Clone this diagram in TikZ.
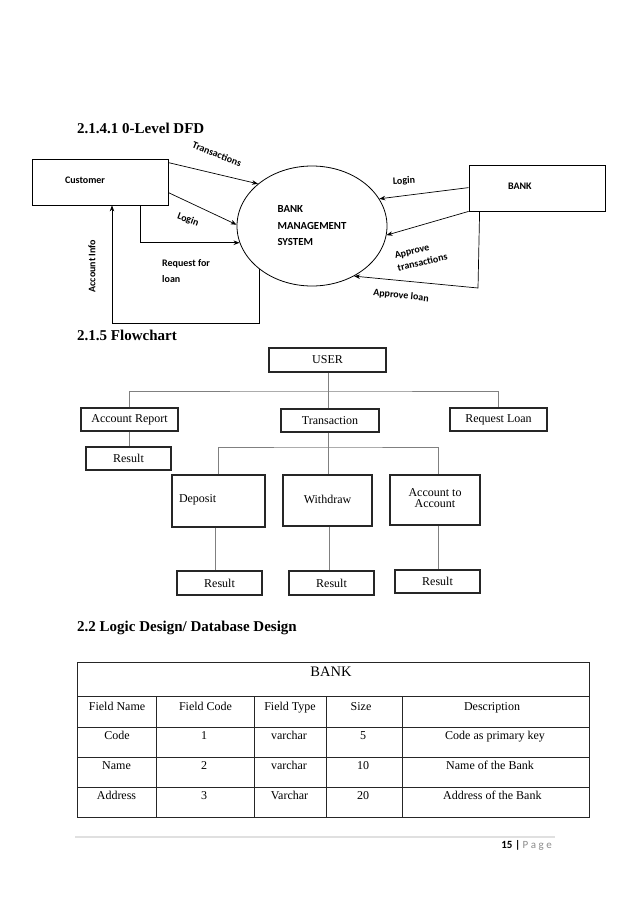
\documentclass[tikz,border=0pt]{standalone}
\usepackage{fontspec}
\setmainfont{Liberation Serif}
\newfontfamily\calfont{Carlito}
\usetikzlibrary{shapes.geometric,arrows.meta,calc}
\begin{document}
\begin{tikzpicture}[x=1pt,y=-1pt,
 dfdbox/.style={draw,line width=0.8pt,rectangle,inner ysep=0pt,minimum width=136pt,minimum height=46pt,align=left,font=\calfont\bfseries\fontsize{10}{12}\selectfont},
 dfdlbl/.style={font=\calfont\bfseries\fontsize{10}{14}\selectfont,inner sep=0pt,align=left},
 flow/.style={-{Stealth[length=6pt,width=4.5pt]},line width=0.7pt},
 fcbox/.style={draw=black!85,line width=1.2pt,rectangle,inner sep=0pt,align=center,font=\fontsize{12}{14}\selectfont},
 fcline/.style={draw=black!50,line width=0.9pt},
 heading/.style={font=\bfseries\fontsize{15}{17}\selectfont,anchor=base west,inner sep=0pt},
 cell/.style={font=\fontsize{12}{14}\selectfont,inner sep=0pt,anchor=base},
 cellL/.style={font=\fontsize{12}{14}\selectfont,inner sep=0pt,anchor=base west},
 tgrid/.style={draw=black!85,line width=0.8pt}]
\useasboundingbox (0,0) rectangle (638,902);
\fill[white] (0,0) rectangle (638,902);

% ---------- DFD ----------
\node[heading] (h1) at (77,133) {2.1.4.1 0-Level DFD};
\node[dfdbox,text width=70pt,inner xsep=33pt] (cust) at (100,182) {\raisebox{3pt}{Customer}};
\node[dfdbox,text width=58pt,inner xsep=39pt] (bank) at (537,188) {\raisebox{4pt}{BANK}};
\node[draw,ellipse,line width=0.8pt,minimum width=150pt,minimum height=120pt,inner sep=0pt,align=left,
      font=\calfont\bfseries\fontsize{10.8}{16.5}\selectfont] (sys) at (312,226) {BANK\\MANAGEMENT\hspace*{14pt}\\SYSTEM};

\draw[flow] ($(cust.north east)+(0,4)$) -- (sys.142.8);
\draw[flow] ($(cust.north east)+(0,34)$) -- (sys.179);
\draw[flow] ($(cust.south west)+(109,0)$) |- (sys.193);
\coordinate (ai) at (112,323);
\draw[flow] (sys.219) |- (ai) -- (ai |- cust.south);
\draw[flow] ($(bank.north west)+(0,23)$) -- (sys.22);
\draw[flow] (bank.south west) -- (sys.-7.7);
\coordinate (al) at (478,288);
\draw[flow] ($(bank.south west)+(11,0)$) -- (al) -- (sys.-50.6);

\node[dfdlbl,rotate=-22] (lt) at (217,154) {Transactions};
\node[dfdlbl,rotate=-20] (ll) at (188,220) {Login};
\node[dfdlbl,anchor=west,font=\calfont\bfseries\fontsize{10}{16}\selectfont] (lr) at (162,271) {Request for\\loan};
\node[dfdlbl,rotate=90] (lai) at (92,266) {Account Info};
\node[dfdlbl,rotate=3] (lbl) at (404,181) {Login};
\node[dfdlbl,rotate=13,font=\calfont\bfseries\fontsize{10}{13}\selectfont] (lat) at (421,256) {Approve\\transactions};
\node[dfdlbl,rotate=-6] (lal) at (401,296) {Approve loan};

% ---------- Flowchart ----------
\node[heading] (h2) at (77,340) {2.1.5 Flowchart};
\node[fcbox,minimum width=117pt,minimum height=24pt] (user) at (327.5,360) {USER};
\node[fcbox,minimum width=97pt,minimum height=23pt] (ar) at (129.5,419.5) {Account Report};
\node[fcbox,minimum width=98pt,minimum height=23pt] (trans) at (330,420.5) {Transaction};
\node[fcbox,minimum width=97pt,minimum height=23pt] (rl) at (498.5,419.5) {Request Loan};
\node[fcbox,minimum width=85pt,minimum height=23pt] (res0) at (128.5,458.5) {Result};
\node[fcbox,minimum width=93pt,minimum height=52pt,text width=79pt,inner xsep=7pt,align=left] (dep) at (218.5,501) {\raisebox{4pt}{Deposit}};
\node[fcbox,minimum width=89pt,minimum height=51pt] (wd) at (327.5,500.5) {\raisebox{3pt}{Withdraw}};
\node[fcbox,minimum width=90pt,minimum height=50pt] (a2a) at (435,500) {\raisebox{3pt}{\shortstack{Account to\\Account}}};
\node[fcbox,minimum width=85pt,minimum height=24pt] (r1) at (219.5,583) {Result};
\node[fcbox,minimum width=85pt,minimum height=24pt] (r2) at (331.5,583) {Result};
\node[fcbox,minimum width=85pt,minimum height=23pt] (r3) at (437.5,581.5) {Result};

\coordinate (j1) at (328,391);
\coordinate (j2) at (328,447);
\draw[fcline] (j1 |- user.south) -- (j1 |- trans.north);
\draw[fcline] (ar.north) |- (j1) -| (rl.north);
\draw[fcline] (ar.south) -- (ar.south |- res0.north);
\draw[fcline] (j2 |- trans.south) -- (j2 |- wd.north);
\draw[fcline] (dep.north) |- (j2) -| ($(a2a.north)+(3,0)$);
\draw[fcline] ($(dep.south)+(-3,0)$) -- ($(dep.south |- r1.north)+(-3,0)$);
\draw[fcline] ($(wd.south)+(2,0)$) -- ($(wd.south |- r2.north)+(2,0)$);
\draw[fcline] ($(a2a.south)+(3,0)$) -- ($(a2a.south |- r3.north)+(3,0)$);

% ---------- Table ----------
\node[heading] (h3) at (77,631) {2.2 Logic Design/ Database Design};
\draw[tgrid] (77,662) rectangle (589,817);
\foreach \yy in {696,727,757,787} \draw[tgrid] (77,\yy) -- (589,\yy);
\foreach \xx in {156,254,326,402} \draw[tgrid] (\xx,696) -- (\xx,817);

\node[cell,font=\fontsize{14.5}{16}\selectfont] (tb) at (331,676) {BANK};
\node[cell] (c11) at (117,710) {Field Name};
\node[cell] (c12) at (205.5,710) {Field Code};
\node[cell] (c13) at (290,710) {Field Type};
\node[cell] (c14) at (361,710) {Size};
\node[cell] (c15) at (492,710) {Description};

\node[cell] (c21) at (117,739) {Code};
\node[cell] (c22) at (204,739) {1};
\node[cell] (c23) at (289,739) {varchar};
\node[cell] (c24) at (363,739) {5};
\node[cellL] (c25) at (445,739) {Code as primary key};

\node[cell] (c31) at (116.5,769) {Name};
\node[cell] (c32) at (204,769) {2};
\node[cell] (c33) at (289,769) {varchar};
\node[cell] (c34) at (363,769) {10};
\node[cellL] (c35) at (446,769) {Name of the Bank};

\node[cell] (c41) at (116.5,799) {Address};
\node[cell] (c42) at (204,799) {3};
\node[cell] (c43) at (289.5,799) {Varchar};
\node[cell] (c44) at (363,799) {20};
\node[cellL] (c45) at (443,799) {Address of the Bank};

% ---------- Footer ----------
\draw[black!12,line width=1.2pt] (75,837) -- (555,837);
\node[inner sep=0pt,anchor=base east,font=\calfont\fontsize{11}{13}\selectfont] (pg) at (552,848) {{\bfseries 15 |} {\color{black!45}P a g e}};
\end{tikzpicture}
\end{document}
